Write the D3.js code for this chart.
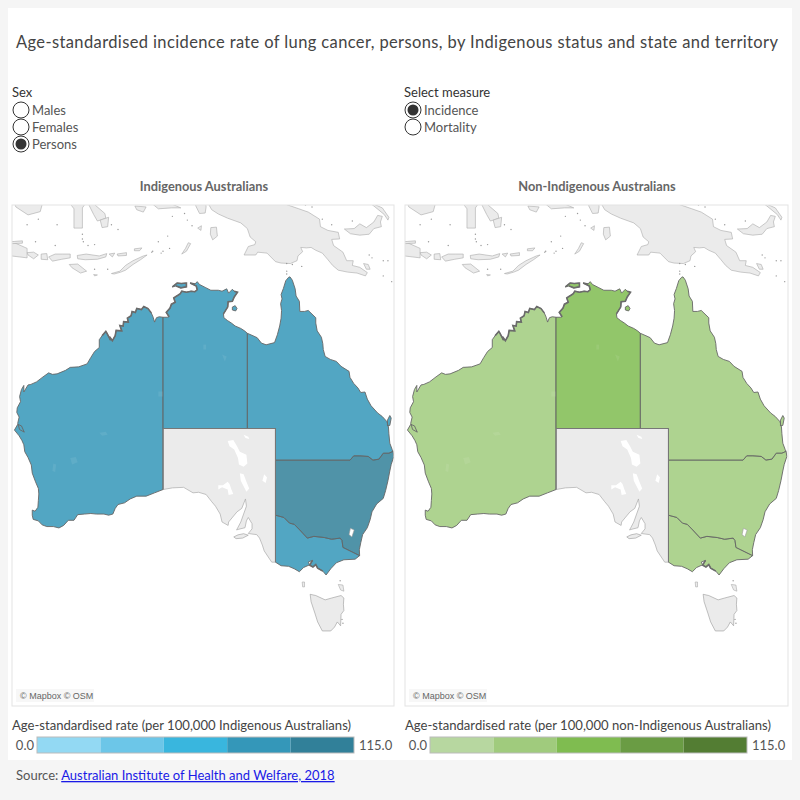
<!DOCTYPE html>
<html>
<head>
<meta charset="utf-8">
<script src="https://cdn.jsdelivr.net/npm/d3@7"></script>
<style>
  body { margin: 0; background: #f5f5f5; }
  svg { display: block; }
  text { font-family: Lato, "Open Sans", sans-serif; }
</style>
</head>
<body>
<script>
// Chart text
const chartTitle = "Age-standardised incidence rate of lung cancer, persons, by Indigenous status and state and territory";
const sexOptions = ["Males", "Females", "Persons"];
const measureOptions = ["Incidence", "Mortality"];
const panelNames = ["Indigenous Australians", "Non-Indigenous Australians"];
const legendTitles = ["Age-standardised rate (per 100,000 Indigenous Australians)", "Age-standardised rate (per 100,000 non-Indigenous Australians)"];

const stateNames = ["WA", "NT", "QLD", "NSW", "VIC"];
const indigenousRates = [84, 86, 83, 97, 80];
const nonIndigenousRates = [38, 52, 41, 39, 37];

const legendDomain = [0, 115];
const blues = ["#93d9f3", "#6cc6e8", "#39b6de", "#3497b9", "#318099"];
const greens = ["#b7d7a0", "#a0cb7d", "#7fbc50", "#6a9c44", "#537d33"];

// Outlines, [lon, lat]
const waCoast = [[129,-14.9],[128.6,-14.85],[128.3,-14.95],[128.1,-15.4],[127.95,-14.9],[127.75,-14.45],[127.4,-14.0],[126.95,-13.8],[126.7,-14.1],[126.2,-14.0],[126.05,-14.4],[125.7,-14.3],[125.6,-14.75],[125.2,-15.0],[125.3,-15.4],[124.8,-15.35],[124.75,-15.8],[124.4,-15.75],[124.6,-16.3],[124.0,-16.25],[123.9,-16.8],[123.6,-17.3],[123.3,-16.9],[123.4,-17.25],[123.0,-16.5],[122.9,-16.35],[122.5,-16.8],[122.2,-17.2],[122.2,-18.0],[121.7,-18.4],[121.3,-19.0],[120.9,-19.65],[120.0,-19.95],[119.1,-20.0],[118.6,-20.3],[117.7,-20.65],[117.2,-20.7],[116.8,-20.55],[116.2,-20.95],[115.5,-21.45],[114.9,-21.7],[114.6,-21.75],[114.15,-22.45],[114.15,-21.8],[113.9,-22.2],[113.7,-22.9],[113.8,-23.4],[113.45,-24.0],[113.4,-24.45],[113.65,-24.9],[113.5,-25.5],[113.7,-26.1],[114.2,-26.35],[113.9,-25.75],[113.5,-25.6],[113.15,-26.15],[113.65,-26.7],[113.95,-27.15],[114.15,-27.55],[114.25,-28.2],[114.6,-28.75],[114.95,-29.45],[115.05,-30.2],[115.4,-31.0],[115.7,-31.6],[115.75,-32.1],[115.7,-32.7],[115.65,-33.3],[115.35,-33.65],[115.05,-33.55],[115.05,-34.0],[115.15,-34.37],[115.7,-34.5],[116.1,-34.85],[116.6,-35.0],[117.3,-35.0],[117.9,-35.12],[118.4,-34.9],[118.9,-34.45],[119.5,-34.45],[119.9,-33.95],[120.6,-33.9],[121.3,-33.85],[121.9,-33.9],[122.7,-33.9],[123.2,-34.0],[123.65,-33.9],[123.9,-33.4],[124.2,-33.05],[124.9,-32.9],[125.5,-32.55],[126.2,-32.3],[127.2,-32.3],[128.1,-32.0],[129,-31.7],[129,-14.9]];
const ntCoast = [[129,-14.9],[129.45,-14.9],[129.65,-14.85],[129.35,-14.4],[129.75,-13.95],[129.9,-13.55],[130.3,-13.35],[130.15,-12.9],[130.55,-12.65],[130.85,-12.45],[131.0,-12.2],[131.5,-12.3],[132.0,-12.2],[132.4,-12.25],[132.65,-12.05],[132.55,-11.65],[131.9,-11.35],[132.4,-11.45],[132.65,-11.2],[132.9,-11.5],[133.5,-11.8],[134.1,-12.1],[134.9,-12.1],[135.3,-12.2],[135.8,-11.95],[136.0,-12.4],[136.4,-12.0],[136.6,-12.2],[136.95,-12.3],[136.6,-12.8],[136.4,-13.25],[135.95,-13.3],[135.9,-13.85],[135.45,-14.55],[135.5,-14.95],[135.9,-15.25],[136.3,-15.5],[136.7,-15.8],[137.3,-16.05],[137.7,-16.3],[138,-16.55],[138,-26],[129,-26],[129,-14.9]];
const tiwiCoast = [[130.0,-11.75],[130.5,-11.35],[130.95,-11.4],[131.5,-11.35],[131.5,-11.75],[130.9,-11.85],[130.4,-11.65]];
const grooteCoast = [[136.4,-13.85],[136.7,-13.7],[136.9,-14.0],[136.75,-14.25],[136.4,-14.15]];
const qldCoast = [[138,-16.55],[138.6,-16.8],[139.05,-17.0],[139.5,-17.55],[140.0,-17.72],[140.9,-17.5],[141.2,-16.7],[141.45,-15.8],[141.6,-15.0],[141.65,-14.2],[141.55,-13.5],[141.7,-13.0],[141.6,-12.55],[141.85,-11.9],[142.1,-11.1],[142.4,-10.75],[142.55,-10.7],[142.8,-11.05],[143.1,-11.95],[143.2,-12.7],[143.55,-13.25],[143.6,-14.3],[144.1,-14.3],[144.5,-14.2],[145.3,-14.95],[145.3,-15.5],[145.45,-16.3],[145.9,-16.95],[146.05,-17.6],[146.1,-18.2],[146.3,-18.9],[146.85,-19.2],[147.5,-19.4],[148.0,-19.9],[148.85,-20.4],[148.95,-21.0],[149.35,-21.6],[149.8,-22.05],[150.1,-22.5],[150.55,-22.45],[150.8,-23.15],[151.2,-23.8],[151.9,-24.5],[152.4,-24.85],[152.9,-25.35],[153.05,-25.8],[153.1,-26.5],[153.2,-27.4],[153.45,-28.0],[153.55,-28.17],[153.1,-28.35],[152.5,-28.35],[152.05,-28.9],[151.4,-29.0],[150.9,-28.65],[150.0,-28.6],[149.35,-28.6],[148.95,-29.0],[141,-29],[141,-26],[138,-26],[138,-16.55]];
const fraserCoast = [[152.95,-25.75],[152.95,-25.2],[153.2,-24.75],[153.35,-25.0],[153.2,-25.7]];
const nswCoast = [[141,-29],[148.95,-29],[149.35,-28.6],[150.0,-28.6],[150.9,-28.65],[151.4,-29.0],[152.05,-28.9],[152.5,-28.35],[153.1,-28.35],[153.55,-28.17],[153.63,-28.65],[153.35,-29.4],[153.2,-30.0],[153.0,-30.9],[152.75,-31.8],[152.5,-32.5],[151.8,-33.0],[151.3,-33.7],[151.1,-34.4],[150.8,-35.1],[150.3,-35.7],[150.1,-36.4],[149.95,-37.0],[149.98,-37.5],[148.2,-36.8],[148.1,-36.2],[147.9,-36.0],[147.0,-36.1],[146.2,-35.95],[145.1,-35.85],[144.4,-36.0],[143.6,-35.3],[143.0,-34.8],[142.5,-34.7],[141.9,-34.2],[141,-34],[141,-29]];
const vicCoast = [[141,-34],[141.9,-34.2],[142.5,-34.7],[143.0,-34.8],[143.6,-35.3],[144.4,-36.0],[145.1,-35.85],[146.2,-35.95],[147.0,-36.1],[147.9,-36.0],[148.1,-36.2],[148.2,-36.8],[149.98,-37.5],[149.5,-37.8],[148.3,-37.85],[147.5,-38.1],[146.9,-38.6],[146.4,-39.12],[146.05,-38.8],[145.5,-38.55],[145.3,-38.25],[145.0,-38.45],[144.65,-38.3],[144.95,-37.9],[144.5,-38.05],[144.65,-38.27],[144.0,-38.5],[143.55,-38.85],[143.0,-38.6],[142.4,-38.4],[141.6,-38.35],[141,-38.05],[141,-34]];
const saCoast = [[129,-26],[141,-26],[141,-38.05],[140.6,-38.05],[140.3,-37.7],[139.8,-37.1],[139.6,-36.6],[139.3,-36.0],[139.0,-35.7],[138.5,-35.65],[138.1,-35.6],[138.5,-35.2],[138.5,-34.75],[138.1,-34.2],[137.9,-34.5],[137.75,-35.1],[137.0,-35.25],[136.85,-35.3],[137.3,-34.6],[137.6,-33.9],[137.9,-33.2],[137.8,-32.55],[137.4,-33.4],[136.9,-33.7],[136.0,-34.6],[135.95,-34.9],[135.3,-34.6],[135.1,-33.9],[134.6,-33.2],[134.2,-32.8],[133.6,-32.15],[132.8,-31.95],[132.2,-32.0],[131.2,-31.5],[130,-31.55],[129,-31.7],[129,-26]];
const kangarooCoast = [[136.55,-35.9],[137.0,-35.72],[137.6,-35.62],[138.1,-35.75],[137.5,-36.0],[136.8,-36.05]];
const tasmaniaCoast = [[144.7,-40.7],[145.3,-40.8],[146.3,-41.15],[147.0,-41.0],[148.0,-40.8],[148.3,-41.0],[148.25,-41.5],[148.3,-42.0],[148.0,-42.3],[147.95,-43.2],[147.6,-42.9],[147.3,-43.3],[146.9,-43.6],[146.0,-43.6],[145.5,-42.9],[145.2,-42.2],[144.8,-41.3]];
const actOutline = [[149.0,-35.15],[149.4,-35.3],[149.15,-35.9],[148.85,-35.7]];

// Stretches of coast that read as darker and rougher
const roughCoast = [waCoast.slice(5, 27), ntCoast.slice(2, 18), ntCoast.slice(27, 34), tiwiCoast, vicCoast.slice(18, 24)];

// Neighbouring land, clipped by the panel frame
const otherLand = [
  [[131,-0.5],[141,-0.5],[141.9,-2.95],[143.5,-3.5],[144.5,-3.85],[145.7,-4.6],[145.8,-5.4],[146.6,-5.8],[147.7,-6.0],[147.85,-6.7],[147.0,-6.75],[147.2,-7.4],[148.2,-8.1],[148.6,-9.0],[149.3,-9.0],[149.2,-9.5],[150.0,-9.7],[150.8,-10.25],[150.6,-10.6],[149.7,-10.3],[148.7,-10.2],[147.7,-10.0],[147.1,-9.5],[146.6,-8.9],[146.0,-8.2],[145.3,-7.9],[144.8,-7.6],[144.3,-7.65],[143.7,-7.6],[143.9,-8.05],[143.4,-8.5],[143.3,-9.0],[142.6,-9.3],[141.6,-9.25],[141.0,-9.1],[140.1,-8.2],[139.1,-8.1],[138.9,-8.4],[137.65,-8.4],[138.1,-7.5],[138.8,-7.3],[138.9,-7.0],[138.3,-6.5],[138.0,-5.6],[137.3,-5.0],[135.9,-4.5],[134.9,-4.05],[134.2,-3.6],[133.8,-2.9],[133.85,-2.4],[133.5,-2.4],[133.6,-3.3],[133.5,-3.95],[132.9,-4.0],[132.5,-3.2],[132.4,-2.7],[131,-1.5]],
  [[148.35,-5.65],[149,-6.15],[150,-6.3],[151,-6.2],[151.5,-5.6],[152.3,-5.4],[152.2,-4.9],[152.4,-4.3],[151.9,-4.2],[151.5,-4.9],[150.7,-5.5],[150.0,-5.1],[149.4,-5.6]],
  [[150.8,-2.7],[152.4,-3.4],[153.1,-4.4],[153,-4.7],[152.6,-4.1],[151.5,-3.2]],
  [[123.5,-10.35],[124.4,-10.1],[125.0,-9.5],[125.8,-9.0],[126.9,-8.5],[127.3,-8.4],[126.6,-8.9],[125.8,-9.4],[125.0,-10.0],[124.5,-10.2],[123.8,-10.4]],
  [[105,-6.8],[108,-6.7],[110.8,-6.4],[112.7,-6.9],[114.5,-7.7],[114.5,-8.7],[112,-8.4],[108,-7.8],[105,-7.0]],
  [[112.7,-7.0],[114,-6.9],[114,-7.15],[112.8,-7.2]],
  [[114.5,-8.15],[115.2,-8.1],[115.7,-8.4],[115.2,-8.8],[114.6,-8.4]],
  [[116,-8.3],[116.6,-8.25],[116.7,-8.9],[116,-8.85]],
  [[116.8,-8.6],[117.5,-8.3],[118.3,-8.3],[119.1,-8.3],[119.1,-8.7],[118.2,-8.85],[117.2,-9.05]],
  [[119.85,-8.45],[120.8,-8.3],[122.2,-8.5],[123,-8.25],[122.9,-8.6],[122,-8.85],[120.7,-8.9],[119.9,-8.8]],
  [[123.25,-8.3],[123.85,-8.2],[123.6,-8.6]],
  [[124.1,-8.3],[125.1,-8.15],[125.1,-8.45],[124.2,-8.5]],
  [[125.95,-7.75],[126.75,-7.65],[126.5,-7.95],[125.95,-7.95]],
  [[119,-9.4],[119.9,-9.35],[120.85,-10.1],[120.2,-10.3],[119.3,-9.75]],
  [[121.6,-10.45],[122,-10.5],[121.7,-10.6]],
  [[131,-8.3],[131.4,-7.7],[131.7,-7.1],[131.95,-7.2],[131.5,-8.0]],
  [[134.1,-5.5],[134.7,-5.45],[134.8,-6.4],[134.3,-6.8],[134.05,-6.2]],
  [[132.7,-5.55],[133.1,-5.3],[133.05,-5.8]],
  [[127.9,-3.0],[129.5,-2.8],[130.9,-3.4],[129.9,-3.4],[128.5,-3.5]],
  [[126.0,-3.2],[127.2,-3.3],[126.9,-3.85],[126.2,-3.6]],
  [[118.9,-2.7],[120.9,-2.7],[120.4,-3.4],[120.4,-5.55],[119.5,-5.55],[119.5,-3.5]],
  [[121.3,-2.7],[122.8,-4.0],[122.9,-4.5],[122.0,-4.8],[121.6,-4.1],[121,-2.9]],
  [[122.3,-4.7],[123.2,-4.4],[123.1,-5.4],[122.5,-5.5]],
  [[108,-2.5],[113,-2.5],[113.3,-3.3],[114.6,-4.15],[115.9,-3.8],[116.2,-2.7]],
  [[150.4,-9.3],[150.9,-9.4],[151.1,-9.9],[150.7,-9.9]],
  [[147.7,-39.9],[148.2,-39.95],[148.3,-40.45],[147.95,-40.35]],
  [[143.85,-39.7],[144.1,-39.7],[144.1,-40.1],[143.9,-40.1]]
];
const otherLandFill = [tasmaniaCoast, kangarooCoast];

// Tiny islands that only show as a speck
const islets = [[114.5,-5.2],[115.7,-4.6],[117.7,-5.2],[120.4,-6.2],[120.4,-6.7],[120.5,-7],[121,-7.4],[121.7,-7.3],[115.4,-7],[117.5,-7.4],[123.5,-5.2],[124.2,-5.7],[128.5,-7],[129.5,-6.4],[129.7,-7.7],[129,-8],[127.9,-8],[121.7,-9.9],[123.1,-9.9],[131.3,-4],[130,-4.3],[131.6,-4.7],[132.1,-5.3],[127.8,-8.1],[128.8,-8.2],[142.2,-9.3],[142.8,-9.4],[143.8,-9.6],[142.2,-10.1],[142.2,-10.4],[144.9,-3.3],[144.2,-3.1],[147,-5.2],[146,-4.6],[149.2,-4.8],[151,-8.4],[151.3,-8.7],[152.5,-9],[153,-9],[152.5,-10.6],[153.4,-11.2],[147.9,-39.6],[148.2,-43],[148.1,-42.7]];

const lakes = [
  [[135.9,-27.2],[136.5,-27.1],[136.9,-27.7],[137.2,-28.2],[137.9,-28.5],[138.0,-29.3],[137.6,-29.6],[137.1,-29.4],[137.0,-28.8],[136.6,-28.0],[136.1,-27.7]],
  [[137.2,-30.2],[137.6,-30.3],[137.9,-31],[138.2,-31.6],[137.9,-31.9],[137.6,-31.4],[137.3,-30.9]],
  [[135.9,-31],[136.1,-31.2],[136.3,-31.7],[136.5,-32.1],[136.0,-32.2],[135.9,-31.7],[135.3,-31.5],[134.9,-31.7],[134.9,-31.3],[135.4,-31.3]],
  [[139.8,-30.3],[140.1,-30.6],[139.95,-31.1],[139.6,-30.9]],
  [[137.6,-26.6],[138.1,-26.8],[138.2,-27],[137.8,-26.9]]
];
const saltLakes = [
  [[119.1,-28.8],[119.7,-28.7],[119.9,-29.2],[119.3,-29.4]],
  [[117.3,-29.3],[117.6,-29.4],[117.5,-30.1],[117.2,-30.0]],
  [[122.2,-26.4],[122.9,-26.3],[123.1,-26.6],[122.5,-26.7]],
  [[128.5,-22.4],[129,-22.4],[129,-22.9],[128.5,-22.9]],
  [[133.3,-17.7],[133.6,-17.7],[133.6,-18.2],[133.3,-18.2]],
  [[135.3,-18.7],[135.8,-18.9],[135.6,-19.4]]
];

const svg = d3.select("body").append("svg").attr("width", 800).attr("height", 800);

// Dashboard background
svg.append("rect").attr("x", 8).attr("y", 8).attr("width", 784).attr("height", 752).attr("fill", "#fff");

svg.append("text").text(chartTitle)
  .attr("x", 397).attr("y", 48)
  .attr("text-anchor", "middle")
  .attr("font-size", 16.5).attr("fill", "#444")
  .attr("textLength", 762);

// Radio button groups
function radioGroup(x, title, options, selected) {
  const g = svg.append("g").attr("transform", `translate(${x},0)`);
  g.append("text").text(title).attr("x", 0).attr("y", 97).attr("font-size", 13).attr("fill", "#333");
  const row = g.selectAll("g.opt").data(options).enter().append("g")
    .attr("transform", (d, i) => `translate(9,${110 + i * 17})`);
  row.append("circle").attr("r", 8).attr("fill", "#fff").attr("stroke", "#333");
  row.filter(d => d === selected).append("circle").attr("r", 5.5).attr("fill", "#333");
  row.append("text").text(d => d).attr("x", 11).attr("y", 4.5).attr("font-size", 13).attr("fill", "#555");
}
radioGroup(12, "Sex", sexOptions, "Persons");
radioGroup(404, "Select measure", measureOptions, "Incidence");

// One map panel plus its legend
function drawPanel(index, xOffset, rates, colours) {
  const name = panelNames[index];
  const w = index === 0 ? 382 : 383;
  const left = 12 + xOffset;

  svg.append("text").text(name)
    .attr("x", left + 192).attr("y", 191)
    .attr("text-anchor", "middle")
    .attr("font-size", 12.8).attr("font-weight", 700).attr("fill", "#666");

  svg.append("clipPath").attr("id", "clip" + index)
    .append("rect").attr("x", left).attr("y", 205).attr("width", w).attr("height", 501);

  const projection = d3.geoMercator().center([129, -26]).scale(537).translate([163 + xOffset, 428.5]);
  const line = d3.line();
  const ring = pts => line(pts.map(p => projection(p))) + "Z";

  const colour = d3.scaleQuantize().domain(legendDomain).range(colours);
  const rateOf = s => rates[stateNames.indexOf(s)];

  const map = svg.append("g").attr("clip-path", `url(#clip${index})`);

  map.selectAll("path.other").data(otherLand).enter().append("path")
    .attr("d", ring).attr("fill", "#ebebeb").attr("stroke", "#aaa").attr("stroke-width", 0.6);
  map.selectAll("path.other2").data(otherLandFill).enter().append("path")
    .attr("d", ring).attr("fill", "#ebebeb").attr("stroke", "#999").attr("stroke-width", 0.6);
  map.selectAll("circle.islet").data(islets).enter().append("circle")
    .attr("cx", d => projection(d)[0]).attr("cy", d => projection(d)[1])
    .attr("r", 0.7).attr("fill", "#999");

  map.append("path").attr("d", ring(saCoast)).attr("fill", "#ebebeb").attr("stroke", "#aaa").attr("stroke-width", 0.7);
  map.selectAll("path.lake").data(lakes).enter().append("path")
    .attr("d", ring).attr("fill", "#fff");

  const stateRings = [
    ["WA", waCoast], ["NT", ntCoast], ["NT", tiwiCoast], ["NT", grooteCoast],
    ["QLD", qldCoast], ["QLD", fraserCoast], ["VIC", vicCoast], ["NSW", nswCoast]
  ];
  map.selectAll("path.state").data(stateRings).enter().append("path")
    .attr("d", d => ring(d[1]))
    .attr("fill", d => colour(rateOf(d[0])))
    .attr("fill-opacity", 0.85)
    .attr("stroke", "#666").attr("stroke-width", 0.9);

  map.selectAll("path.rough").data(roughCoast).enter().append("path")
    .attr("d", d => line(d.map(p => projection(p))))
    .attr("fill", "none").attr("stroke", "#6b6b6b").attr("stroke-width", 1.6);

  map.selectAll("path.salt").data(saltLakes).enter().append("path")
    .attr("d", ring).attr("fill", "#fff").attr("fill-opacity", 0.08);

  // SA edge against the state borders
  map.append("path").attr("d", line([[129, -31.7], [129, -26], [141, -26], [141, -38.05]].map(p => projection(p))))
    .attr("fill", "none").attr("stroke", "#777").attr("stroke-width", 1);

  map.append("path").attr("d", ring(actOutline)).attr("fill", "#fff").attr("stroke", "#999").attr("stroke-width", 0.6);

  // Panel frame
  svg.append("rect").attr("x", left).attr("y", 205).attr("width", w).attr("height", 501)
    .attr("fill", "none").attr("stroke", "#e3e3e3");

  // Attribution
  svg.append("rect").attr("x", left + 4).attr("y", 689).attr("width", 78).attr("height", 13).attr("fill", "#f7f7f7");
  svg.append("text").text("© Mapbox © OSM")
    .attr("x", left + 8).attr("y", 699)
    .attr("font-size", 9).attr("fill", "#666")
    .style("font-family", "'Liberation Sans', sans-serif");

  // Legend
  svg.append("text").text(legendTitles[index])
    .attr("x", left).attr("y", 730)
    .attr("font-size", 13.1).attr("fill", "#444");

  const xLegend = d3.scaleLinear().domain(legendDomain).range([left + 25, left + 342]);
  const bins = [legendDomain[0], ...colour.thresholds(), legendDomain[1]];
  svg.selectAll("rect.bin" + index).data(colours).enter().append("rect")
    .attr("x", (d, i) => xLegend(bins[i]))
    .attr("width", (d, i) => xLegend(bins[i + 1]) - xLegend(bins[i]))
    .attr("y", 737).attr("height", 16)
    .attr("fill", d => d);
  svg.append("rect")
    .attr("x", xLegend(legendDomain[0])).attr("y", 737)
    .attr("width", xLegend(legendDomain[1]) - xLegend(legendDomain[0])).attr("height", 16)
    .attr("fill", "none").attr("stroke", "#bbb");

  svg.append("text").text(d3.format(".1f")(legendDomain[0]))
    .attr("x", xLegend(legendDomain[0]) - 3).attr("y", 750)
    .attr("text-anchor", "end").attr("font-size", 13).attr("fill", "#555");
  svg.append("text").text(d3.format(".1f")(legendDomain[1]))
    .attr("x", xLegend(legendDomain[1]) + 5).attr("y", 750)
    .attr("font-size", 13).attr("fill", "#555");
}

drawPanel(0, 0, indigenousRates, blues);
drawPanel(1, 393, nonIndigenousRates, greens);

// Source line
const source = svg.append("text").attr("x", 16).attr("y", 780).attr("font-size", 13).attr("fill", "#555");
source.append("tspan").text("Source: ");
source.append("tspan").text("Australian Institute of Health and Welfare, 2018")
  .attr("fill", "#1a1ae6").attr("text-decoration", "underline");
</script>
</body>
</html>
